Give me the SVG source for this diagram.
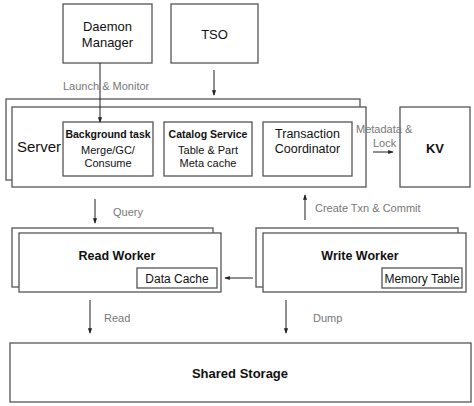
<svg xmlns="http://www.w3.org/2000/svg" width="474" height="406" viewBox="0 0 474 406">
<defs>
<style>
.box{fill:#fff;stroke:#555;stroke-width:1.3}
.t{font-family:"Liberation Sans",Arial,Helvetica,sans-serif;fill:#111;text-anchor:middle}
.b{font-weight:bold}
.lbl{font-family:"Liberation Sans",Arial,Helvetica,sans-serif;fill:#777;font-size:11px}
.ln{stroke:#333;stroke-width:1.1;fill:none;marker-end:url(#ah)}
</style>
<marker id="ah" viewBox="0 0 8 8" refX="7" refY="4" markerWidth="5" markerHeight="5" orient="auto">
<path d="M0,1 L8,4 L0,7 Z" fill="#222"/>
</marker>
</defs>
<rect width="474" height="406" fill="#fff"/>
<g id="daemon">
<rect class="box" x="63" y="4" width="89" height="59"/>
<text class="t" x="107.5" y="31" font-size="13">Daemon</text>
<text class="t" x="107.5" y="47" font-size="13">Manager</text>
</g>
<g id="tso">
<rect class="box" x="171" y="4" width="87" height="59"/>
<text class="t" x="214.5" y="39" font-size="13">TSO</text>
</g>
<g id="server">
<rect class="box" x="6" y="99" width="354" height="81"/>
<rect class="box" x="12" y="107" width="354" height="80"/>
<text class="t" x="39" y="152" font-size="15">Server</text>
</g>
<g id="background">
<rect class="box" x="63" y="122" width="90" height="54"/>
<text class="t b" x="108" y="138" font-size="10.5">Background task</text>
<text class="t" x="108" y="154" font-size="11">Merge/GC/</text>
<text class="t" x="108" y="167" font-size="11">Consume</text>
</g>
<g id="catalog">
<rect class="box" x="164" y="122" width="88" height="54"/>
<text class="t b" x="208" y="138" font-size="10.5">Catalog Service</text>
<text class="t" x="208" y="154" font-size="11">Table &amp; Part</text>
<text class="t" x="208" y="167" font-size="11">Meta cache</text>
</g>
<g id="txn">
<rect class="box" x="263" y="122" width="89" height="54"/>
<text class="t" x="307.5" y="138" font-size="12.5">Transaction</text>
<text class="t" x="307.5" y="153" font-size="12.5">Coordinator</text>
</g>
<g id="kv">
<rect class="box" x="400" y="107" width="70" height="80"/>
<text class="t b" x="435" y="153" font-size="13">KV</text>
</g>
<g id="readworker">
<rect class="box" x="12" y="228" width="201" height="59"/>
<rect class="box" x="19" y="233" width="202" height="59"/>
<text class="t b" x="117" y="260" font-size="12.5">Read Worker</text>
<rect class="box" x="137" y="268" width="80" height="20"/>
<text class="t" x="177" y="283" font-size="12">Data Cache</text>
</g>
<g id="writeworker">
<rect class="box" x="256" y="228" width="202" height="59"/>
<rect class="box" x="263" y="233" width="203" height="59"/>
<text class="t b" x="360" y="260" font-size="12.5">Write Worker</text>
<rect class="box" x="382" y="268" width="80" height="20"/>
<text class="t" x="422" y="283" font-size="12">Memory Table</text>
</g>
<g id="storage">
<rect class="box" x="10" y="343" width="461" height="59"/>
<text class="t b" x="240" y="378" font-size="13">Shared Storage</text>
</g>
<g id="connectors">
<line class="ln" x1="100" y1="63" x2="100" y2="122"/>
<line class="ln" x1="214" y1="70" x2="214" y2="95"/>
<line class="ln" x1="373" y1="152" x2="393" y2="152"/>
<line class="ln" x1="95" y1="199" x2="95" y2="223"/>
<line class="ln" x1="305" y1="220" x2="305" y2="195"/>
<line class="ln" x1="253" y1="278" x2="225" y2="278"/>
<line class="ln" x1="90" y1="300" x2="90" y2="333"/>
<line class="ln" x1="286" y1="300" x2="286" y2="333"/>
<text class="lbl" x="63" y="90">Launch &amp; Monitor</text>
<text class="lbl" x="356" y="133">Metadata &amp;</text>
<text class="lbl" x="373" y="147">Lock</text>
<text class="lbl" x="113" y="216">Query</text>
<text class="lbl" x="315" y="212">Create Txn &amp; Commit</text>
<text class="lbl" x="104" y="322">Read</text>
<text class="lbl" x="313" y="322">Dump</text>
</g>
</svg>
